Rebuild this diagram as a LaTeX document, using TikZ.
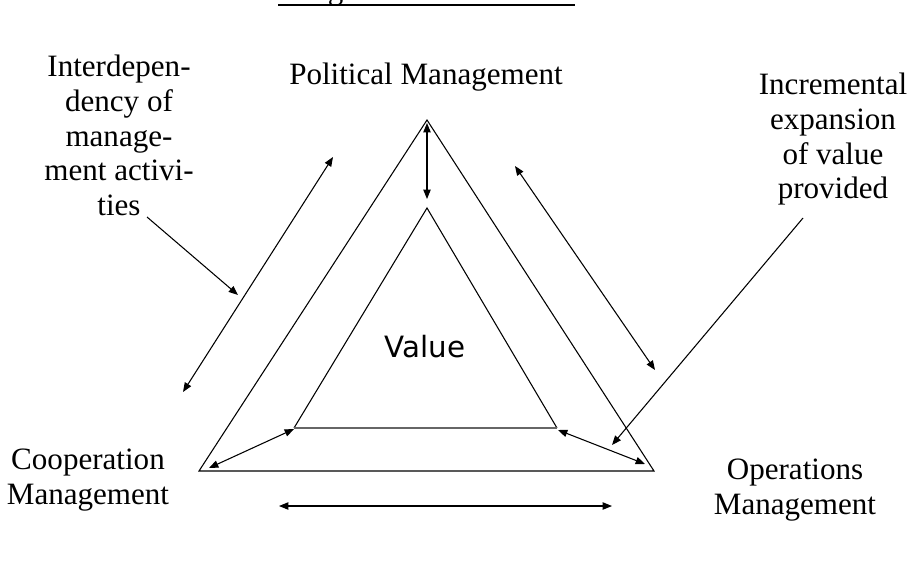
\documentclass[tikz,border=0pt]{standalone}
\usepackage{fontspec}
\setmainfont{Liberation Serif}
\newfontfamily\valuefont{DejaVu Sans}
\usetikzlibrary{arrows.meta}
\begin{document}
\begin{tikzpicture}[x=0.75pt,y=-0.75pt,
  ln/.style={line width=0.8pt,black},
  dbl/.style={ln,{Triangle[length=7pt,width=5.5pt]}-{Triangle[length=7pt,width=5.5pt]}},
  sgl/.style={ln,-{Triangle[length=7pt,width=5.5pt]}},
  lbl/.style={font=\fontsize{23.3}{26}\selectfont,align=center,inner sep=0pt}]
\useasboundingbox (0,0) rectangle (916,579);
\fill[white] (0,0) rectangle (916,579);
% title (cut off at top, as in the reference)
\node[lbl,anchor=base] (title) at (427,-1) {Long-term time horizon};
\coordinate (ulA) at (278,5);
\coordinate (ulB) at (575,5);
\draw[line width=1pt] (ulA) -- (ulB);
% triangles
\coordinate (oT) at (427,120);
\coordinate (oL) at (199,471);
\coordinate (oR) at (654,471);
\coordinate (iT) at (427,208);
\coordinate (iL) at (294,428);
\coordinate (iR) at (557,428);
\draw[ln] (oL) -- (oT) -- (oR) -- cycle;
\draw[ln] (iL) -- (iT) -- (iR);
\draw[line width=0.8pt,black!60] (iL) -- (iR);
% arrows between triangles
\coordinate (vA) at (427,123);
\coordinate (vB) at (427,199);
\draw[dbl] (vA) -- (vB);
\coordinate (lA) at (294,429);
\coordinate (lB) at (209,468);
\draw[dbl] (lA) -- (lB);
\coordinate (rA) at (558,430);
\coordinate (rB) at (645,464);
\draw[dbl] (rA) -- (rB);
% outside arrows
\coordinate (plA) at (333,157);
\coordinate (plB) at (183,392);
\draw[dbl] (plA) -- (plB);
\coordinate (prA) at (515,166);
\coordinate (prB) at (655,370);
\draw[dbl] (prA) -- (prB);
\coordinate (bA) at (279,506);
\coordinate (bB) at (612,506);
\draw[dbl] (bA) -- (bB);
% labels
\node[lbl,anchor=base] (pol) at (426,84) {Political Management};
\node[inner sep=0pt,font=\valuefont\fontsize{22}{26}\selectfont] (val) at (425,347) {Value};
\node[lbl,anchor=north] (inter) at (119,55) {Interdepen-\\dency of\\manage-\\ment activi-\\ties};
\node[lbl,anchor=north] (incr) at (833,73) {Incremental\\expansion\\of value\\provided};
\node[lbl,anchor=north] (coop) at (88,449) {Cooperation\\Management};
\node[lbl,anchor=north] (oper) at (795,459) {Operations\\Management};
% pointer arrows
\coordinate (iaS) at (147,217);
\coordinate (iaE) at (238,295);
\draw[sgl] (iaS) -- (iaE);
\coordinate (naS) at (803,218);
\coordinate (naE) at (612,445);
\draw[sgl] (naS) -- (naE);
\end{tikzpicture}
\end{document}
